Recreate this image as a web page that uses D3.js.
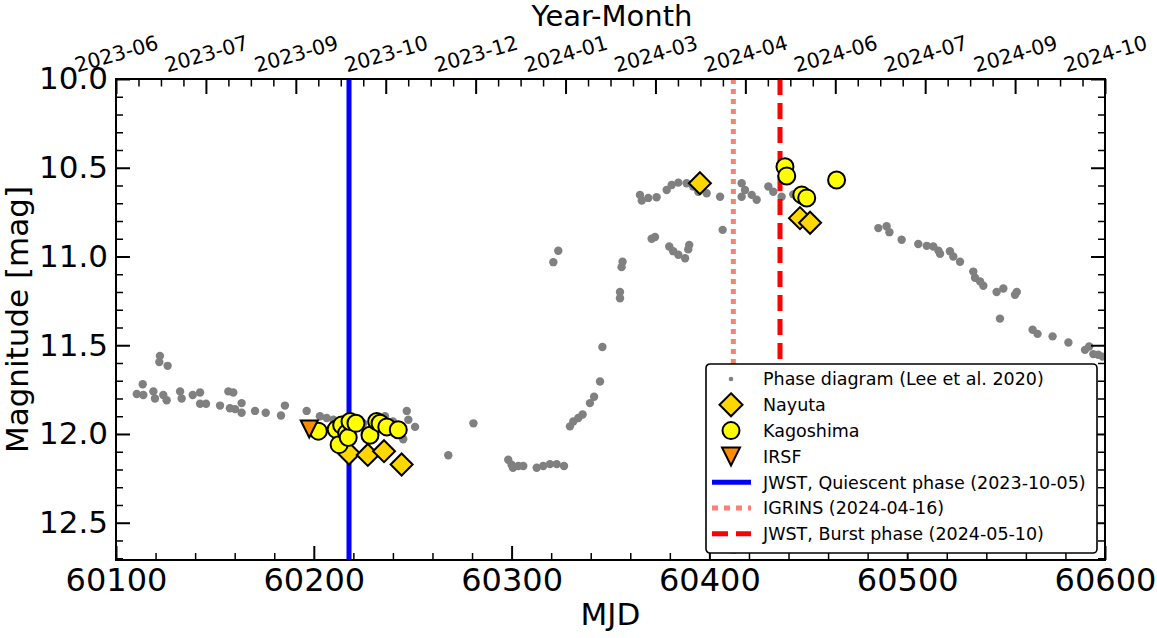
<!DOCTYPE html>
<html>
<head>
<meta charset="utf-8">
<script src="https://cdn.jsdelivr.net/npm/d3@7"></script>
<style>
  body { margin: 0; background: #fff; }
  svg { font-family: "DejaVu Sans", sans-serif; }
</style>
</head>
<body>
<div id="chart"></div>
<script>
// phase diagram points (Lee et al. 2020)
var phaseMjd = [60110.5, 60113.5, 60113.8, 60118.9, 60119.7, 60122.2, 60121.9, 60126.1, 60123.9, 60125.6,
  60132.4, 60133.2, 60138.8, 60142.5, 60142.5, 60145.5, 60152.6, 60156.8, 60159.3, 60157.6,
  60160.2, 60163.5, 60163.5, 60170.3, 60175.7, 60183.4, 60185.4, 60196.4, 60203.1, 60206.5,
  60209.9, 60214.9, 60220, 60225, 60232, 60236, 60240, 60247, 60247.8, 60251.2,
  60245.2, 60268, 60280.7, 60298.3, 60300, 60300.7, 60303.4, 60305.9, 60312.7, 60316,
  60319.4, 60322.8, 60326.5, 60321.1, 60323.6, 60329.5, 60331.2, 60333.7, 60335.9, 60339.6,
  60341.7, 60344.7, 60345.9, 60354.8, 60354.8, 60356.1, 60355.6, 60370.8, 60372.5, 60379.7,
  60381.7, 60384.3, 60387.7, 60389.8, 60389.3, 60406.7, 60364.9, 60365.8, 60369.1, 60373.3,
  60378.4, 60380.9, 60384.3, 60388.5, 60391.8, 60394.4, 60398.6, 60405.4, 60416.3, 60418,
  60416.3, 60421.4, 60423.9, 60429.8, 60432.3, 60436.5, 60442.4, 60485.4, 60489.6, 60491,
  60497.2, 60505.6, 60509.9, 60513.2, 60515.8, 60516.6, 60521.6, 60523.3, 60526.7, 60533.4,
  60534.3, 60536.8, 60538.5, 60545.2, 60548.6, 60554.5, 60555.4, 60546.9, 60563.4, 60565.9,
  60573.5, 60581.5, 60589.9, 60592, 60594.1, 60596.6, 60598.8];
var phaseMag = [11.775, 11.72, 11.78, 11.76, 11.80, 11.56, 11.595, 11.616, 11.78, 11.81,
  11.76, 11.80, 11.78, 11.766, 11.83, 11.83, 11.84, 11.76, 11.766, 11.855,
  11.86, 11.826, 11.88, 11.87, 11.88, 11.896, 11.84, 11.87, 11.90, 11.91,
  11.92, 11.92, 11.93, 11.94, 11.92, 11.90, 11.93, 11.87, 11.92, 11.96,
  12.03, 12.12, 11.94, 12.145, 12.173, 12.19, 12.18, 12.18, 12.19, 12.18,
  12.17, 12.17, 12.18, 11.032, 10.968, 11.957, 11.93, 11.91, 11.89, 11.826,
  11.79, 11.704, 11.51, 11.20, 11.235, 11.03, 11.06, 10.90, 10.89, 10.944,
  10.97, 10.99, 11.01, 10.935, 10.96, 10.85, 10.653, 10.685, 10.67, 10.666,
  10.625, 10.597, 10.584, 10.587, 10.606, 10.635, 10.644, 10.663, 10.587, 10.625,
  10.663, 10.653, 10.68, 10.606, 10.635, 10.663, 10.65, 10.84, 10.83, 10.863,
  10.906, 10.93, 10.94, 10.944, 10.967, 10.985, 10.97, 11.0, 11.03, 11.085,
  11.12, 11.14, 11.165, 11.20, 11.18, 11.216, 11.20, 11.35, 11.413, 11.436,
  11.45, 11.485, 11.526, 11.507, 11.55, 11.554, 11.564];

var nayutaMjd = [60217.8, 60227.3, 60235.5, 60244.4, 60395.2, 60445.8, 60450.9];
var nayutaMag = [12.11, 12.118, 12.097, 12.172, 10.587, 10.784, 10.81];

var kagoshimaMjd = [60202.3, 60211.3, 60212.8, 60214.1, 60216.6, 60217.4, 60218.3, 60221.3, 60228.4,
  60231.8, 60233.5, 60236.9, 60242.7, 60438.2, 60439.1, 60446.7, 60449.2, 60464.3];
var kagoshimaMag = [11.984, 11.974, 12.06, 11.95, 11.995, 12.02, 11.93, 11.94, 12.007,
  11.93, 11.94, 11.96, 11.976, 10.494, 10.546, 10.653, 10.67, 10.569];

var irsfMjd = [60197.7];
var irsfMag = [11.972];

var eventMjd = [60217.8, 60412.1, 60435.7];
var eventLabels = ["JWST, Quiescent phase (2023-10-05)", "IGRINS (2024-04-16)", "JWST, Burst phase (2024-05-10)"];

var topTickLabels = ["2023-06", "2023-07", "2023-09", "2023-10", "2023-12", "2024-01",
  "2024-03", "2024-04", "2024-06", "2024-07", "2024-09", "2024-10"];

var legendLabels = ["Phase diagram (Lee et al. 2020)", "Nayuta", "Kagoshima", "IRSF"];

var width = 1157, height = 638;
var margin = {top: 79, right: 52, bottom: 78, left: 116};

var x = d3.scaleLinear().domain([60100, 60600]).range([margin.left, width - margin.right]);
var y = d3.scaleLinear().domain([10.0, 12.71]).range([margin.top, height - margin.bottom]);

var svg = d3.select("#chart").append("svg")
  .attr("width", width)
  .attr("height", height);

svg.append("clipPath").attr("id", "plot-clip")
  .append("rect")
  .attr("x", margin.left).attr("y", margin.top)
  .attr("width", x.range()[1] - x.range()[0])
  .attr("height", y.range()[1] - y.range()[0]);

function diamondPath(s) { return "M0," + (-s) + "L" + s + ",0L0," + s + "L" + (-s) + ",0Z"; }
function triDownPath(s) { return "M" + (-s) + "," + (-s) + "L" + s + "," + (-s) + "L0," + s + "Z"; }

function pairs(xs, ys) { return xs.map(function(m, i) { return {mjd: m, mag: ys[i]}; }); }

var plot = svg.append("g").attr("clip-path", "url(#plot-clip)");

// gray phase diagram
plot.append("g").selectAll("circle")
  .data(pairs(phaseMjd, phaseMag))
  .join("circle")
    .attr("cx", function(d) { return x(d.mjd); })
    .attr("cy", function(d) { return y(d.mag); })
    .attr("r", 4.2)
    .attr("fill", "#808080");

// vertical event lines
var eventStyles = [
  {color: "#0000ff", dash: null},
  {color: "#fa8072", dash: "5,5"},
  {color: "#ff0000", dash: "16,8"}
];
plot.append("g").selectAll("line")
  .data(eventMjd)
  .join("line")
    .attr("x1", function(d) { return x(d); })
    .attr("x2", function(d) { return x(d); })
    .attr("y1", y.range()[0])
    .attr("y2", y.range()[1])
    .attr("stroke", function(d, i) { return eventStyles[i].color; })
    .attr("stroke-width", 5)
    .attr("stroke-dasharray", function(d, i) { return eventStyles[i].dash; });

// Nayuta
plot.append("g").selectAll("path")
  .data(pairs(nayutaMjd, nayutaMag))
  .join("path")
    .attr("transform", function(d) { return "translate(" + x(d.mjd) + "," + y(d.mag) + ")"; })
    .attr("d", diamondPath(11))
    .attr("fill", "#ffd700")
    .attr("stroke", "black")
    .attr("stroke-width", 2);

// Kagoshima
plot.append("g").selectAll("circle")
  .data(pairs(kagoshimaMjd, kagoshimaMag))
  .join("circle")
    .attr("cx", function(d) { return x(d.mjd); })
    .attr("cy", function(d) { return y(d.mag); })
    .attr("r", 8.5)
    .attr("fill", "#ffff00")
    .attr("stroke", "black")
    .attr("stroke-width", 2);

// IRSF
plot.append("g").selectAll("path")
  .data(pairs(irsfMjd, irsfMag))
  .join("path")
    .attr("transform", function(d) { return "translate(" + x(d.mjd) + "," + y(d.mag) + ")"; })
    .attr("d", triDownPath(8.5))
    .attr("fill", "#ff8c00")
    .attr("stroke", "black")
    .attr("stroke-width", 2);

// ---- axes ----
var xMajor = d3.range(60100, 60601, 100);
var xMinor = d3.range(60100, 60601, 20).filter(function(d) { return (d - 60100) % 100 !== 0; });
var topMajor = d3.range(12).map(function(i) { return 60100 + i * 500 / 11; });
var topMinor = [];
for (var i = 0; i < 11; i++) {
  for (var k = 1; k < 4; k++) topMinor.push(topMajor[i] + k * (500 / 11) / 4);
}
var yMajor = d3.range(6).map(function(i) { return 10 + i * 0.5; });
var yMinor = d3.range(28).map(function(i) { return 10 + i * 0.1; })
  .filter(function(d, i) { return i % 5 !== 0; });

function styleAxis(g, fontSize, tickWidth) {
  g.select(".domain").remove();
  g.attr("font-family", null).attr("font-size", fontSize);
  g.selectAll(".tick line").attr("stroke", "black").attr("stroke-width", tickWidth);
  g.selectAll(".tick text").attr("fill", "black");
}

var bottomY = y.range()[1], topY = y.range()[0];
var leftX = x.range()[0], rightX = x.range()[1];

svg.append("g").attr("transform", "translate(0," + bottomY + ")")
  .call(d3.axisBottom(x).tickValues(xMajor).tickFormat(d3.format("d")).tickSize(-14).tickPadding(8))
  .call(styleAxis, 32, 2);
svg.append("g").attr("transform", "translate(0," + bottomY + ")")
  .call(d3.axisBottom(x).tickValues(xMinor).tickFormat("").tickSize(-7))
  .call(styleAxis, 10, 1.5);

svg.append("g").attr("transform", "translate(" + leftX + ",0)")
  .call(d3.axisLeft(y).tickValues(yMajor).tickFormat(d3.format(".1f")).tickSize(-14).tickPadding(8))
  .call(styleAxis, 31, 2);
svg.append("g").attr("transform", "translate(" + leftX + ",0)")
  .call(d3.axisLeft(y).tickValues(yMinor).tickFormat("").tickSize(-7))
  .call(styleAxis, 10, 1.5);

svg.append("g").attr("transform", "translate(" + rightX + ",0)")
  .call(d3.axisRight(y).tickValues(yMajor).tickFormat("").tickSize(-14))
  .call(styleAxis, 10, 2);
svg.append("g").attr("transform", "translate(" + rightX + ",0)")
  .call(d3.axisRight(y).tickValues(yMinor).tickFormat("").tickSize(-7))
  .call(styleAxis, 10, 1.5);

var topAxis = svg.append("g").attr("transform", "translate(0," + topY + ")")
  .call(d3.axisTop(x).tickValues(topMajor)
    .tickFormat(function(d, i) { return topTickLabels[i]; }).tickSize(-15))
  .call(styleAxis, 20.5, 2);
topAxis.selectAll(".tick text")
  .attr("y", null).attr("dy", null)
  .attr("text-anchor", "middle")
  .attr("dominant-baseline", "central")
  .attr("transform", "translate(0,-25) rotate(-16)");
svg.append("g").attr("transform", "translate(0," + topY + ")")
  .call(d3.axisTop(x).tickValues(topMinor).tickFormat("").tickSize(-7.5))
  .call(styleAxis, 10, 1.5);

// frame
svg.append("rect")
  .attr("x", leftX).attr("y", topY)
  .attr("width", rightX - leftX).attr("height", bottomY - topY)
  .attr("fill", "none").attr("stroke", "black").attr("stroke-width", 2);

// axis titles
svg.append("text")
  .attr("x", (leftX + rightX) / 2).attr("y", 625)
  .attr("text-anchor", "middle").attr("font-size", 31)
  .text("MJD");
svg.append("text")
  .attr("transform", "translate(28," + (topY + bottomY) / 2 + ") rotate(-90)")
  .attr("text-anchor", "middle").attr("font-size", 31)
  .text("Magnitude [mag]");
svg.append("text")
  .attr("x", 612).attr("y", 26)
  .attr("text-anchor", "middle").attr("font-size", 29)
  .text("Year-Month");

// ---- legend ----
var legend = svg.append("g").attr("transform", "translate(706,364)");
legend.append("rect")
  .attr("width", 391).attr("height", 189).attr("rx", 4)
  .attr("fill", "white").attr("stroke", "black").attr("stroke-width", 1.6);

var legendRows = legendLabels.concat(eventLabels);
var rowH = 25.8, row0 = 15, markX = 25, textX = 57;

legendRows.forEach(function(label, i) {
  var g = legend.append("g").attr("transform", "translate(0," + (row0 + i * rowH) + ")");
  if (i === 0) {
    g.append("circle").attr("cx", markX).attr("r", 2.3).attr("fill", "#808080");
  } else if (i === 1) {
    g.append("path").attr("transform", "translate(" + markX + ",0)").attr("d", diamondPath(11.5))
      .attr("fill", "#ffd700").attr("stroke", "black").attr("stroke-width", 2);
  } else if (i === 2) {
    g.append("circle").attr("cx", markX).attr("r", 8.5)
      .attr("fill", "#ffff00").attr("stroke", "black").attr("stroke-width", 2);
  } else if (i === 3) {
    g.append("path").attr("transform", "translate(" + markX + ",0)").attr("d", triDownPath(9))
      .attr("fill", "#ff8c00").attr("stroke", "black").attr("stroke-width", 2);
  } else {
    var st = eventStyles[i - 4];
    g.append("line").attr("x1", 6).attr("x2", 45)
      .attr("stroke", st.color).attr("stroke-width", 5)
      .attr("stroke-dasharray", i === 5 ? "6,6" : (i === 6 ? "16,8" : null));
  }
  g.append("text")
    .attr("x", textX).attr("dy", "0.36em")
    .attr("font-size", 17.5)
    .text(label);
});
</script>
</body>
</html>
